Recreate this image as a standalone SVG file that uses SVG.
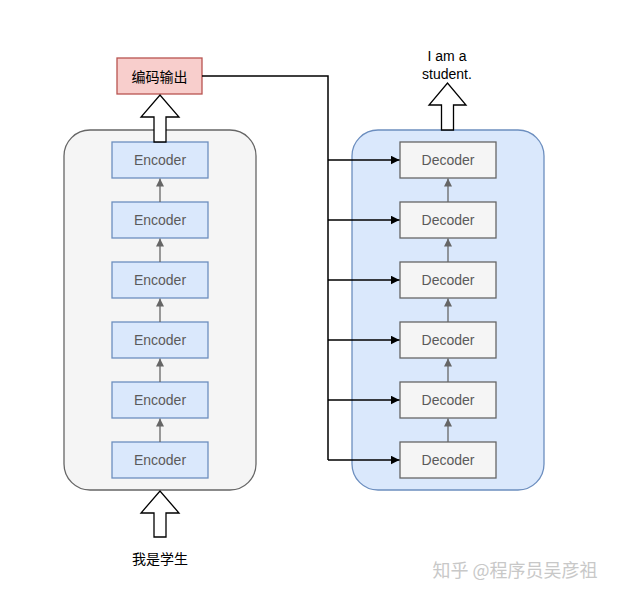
<svg xmlns="http://www.w3.org/2000/svg" width="617" height="595" viewBox="0 0 617 595">
<style>
.enc rect{fill:#dae8fc;stroke:#6c8ebf;stroke-width:1.3}
.dec rect{fill:#f5f5f5;stroke:#666666;stroke-width:1.3}
.lbl{font-family:"Liberation Sans",Arial,sans-serif;font-size:14px;fill:#5a5a5a;text-anchor:middle;dominant-baseline:central}
.cjk{font-family:"Noto Sans CJK SC","Liberation Sans",sans-serif;font-size:14px;fill:#000;text-anchor:middle;dominant-baseline:central}
.big{fill:#fff;stroke:#000;stroke-width:1.3;stroke-linejoin:miter}
.small{stroke:#666;stroke-width:1.3;fill:none}
.blk{stroke:#000;stroke-width:1.5;fill:none}
</style>
<defs>
<marker id="ag" viewBox="0 0 10 10" refX="10" refY="5" markerWidth="8" markerHeight="8" markerUnits="userSpaceOnUse" orient="auto"><path d="M0,0 L10,5 L0,10 Z" fill="#666"/></marker>
<marker id="ab" viewBox="0 0 10 10" refX="10" refY="5" markerWidth="9" markerHeight="9" markerUnits="userSpaceOnUse" orient="auto"><path d="M0,0 L10,5 L0,10 Z" fill="#000"/></marker>
</defs>
<rect width="617" height="595" fill="#fff"/>
<g id="encoder-stack"><rect x="64" y="130" width="192" height="360" rx="26" fill="#f5f5f5" stroke="#666" stroke-width="1.3"/></g>
<g id="decoder-stack"><rect x="352" y="130" width="192" height="360" rx="26" fill="#dae8fc" stroke="#6c8ebf" stroke-width="1.3"/></g>
<g id="enc1" class="enc"><rect x="112" y="142" width="96" height="36"/><text class="lbl" x="160" y="160">Encoder</text></g>
<g id="enc2" class="enc"><rect x="112" y="202" width="96" height="36"/><text class="lbl" x="160" y="220">Encoder</text></g>
<g id="enc3" class="enc"><rect x="112" y="262" width="96" height="36"/><text class="lbl" x="160" y="280">Encoder</text></g>
<g id="enc4" class="enc"><rect x="112" y="322" width="96" height="36"/><text class="lbl" x="160" y="340">Encoder</text></g>
<g id="enc5" class="enc"><rect x="112" y="382" width="96" height="36"/><text class="lbl" x="160" y="400">Encoder</text></g>
<g id="enc6" class="enc"><rect x="112" y="442" width="96" height="36"/><text class="lbl" x="160" y="460">Encoder</text></g>
<g id="dec1" class="dec"><rect x="400" y="142" width="96" height="36"/><text class="lbl" x="448" y="160">Decoder</text></g>
<g id="dec2" class="dec"><rect x="400" y="202" width="96" height="36"/><text class="lbl" x="448" y="220">Decoder</text></g>
<g id="dec3" class="dec"><rect x="400" y="262" width="96" height="36"/><text class="lbl" x="448" y="280">Decoder</text></g>
<g id="dec4" class="dec"><rect x="400" y="322" width="96" height="36"/><text class="lbl" x="448" y="340">Decoder</text></g>
<g id="dec5" class="dec"><rect x="400" y="382" width="96" height="36"/><text class="lbl" x="448" y="400">Decoder</text></g>
<g id="dec6" class="dec"><rect x="400" y="442" width="96" height="36"/><text class="lbl" x="448" y="460">Decoder</text></g>
<g id="enc-out"><rect x="117" y="58" width="85" height="36" fill="#f8cecc" stroke="#b85450" stroke-width="1.3"/><text class="cjk" x="159.5" y="76">编码输出</text></g>
<g id="input-label"><text class="cjk" x="160" y="558">我是学生</text></g>
<g id="output-label"><text class="lbl" x="447" y="56" style="fill:#000">I am a</text><text class="lbl" x="447" y="74" style="fill:#000">student.</text></g>
<g id="connectors">
<path class="small" d="M160 442V418.5" marker-end="url(#ag)"/>
<path class="small" d="M160 382V358.5" marker-end="url(#ag)"/>
<path class="small" d="M160 322V298.5" marker-end="url(#ag)"/>
<path class="small" d="M160 262V238.5" marker-end="url(#ag)"/>
<path class="small" d="M160 202V178.5" marker-end="url(#ag)"/>
<path class="small" d="M448 442V418.5" marker-end="url(#ag)"/>
<path class="small" d="M448 382V358.5" marker-end="url(#ag)"/>
<path class="small" d="M448 322V298.5" marker-end="url(#ag)"/>
<path class="small" d="M448 262V238.5" marker-end="url(#ag)"/>
<path class="small" d="M448 202V178.5" marker-end="url(#ag)"/>
<path class="blk" d="M202 76H328V460"/>
<path class="blk" d="M328 160H399.5" marker-end="url(#ab)"/>
<path class="blk" d="M328 220H399.5" marker-end="url(#ab)"/>
<path class="blk" d="M328 280H399.5" marker-end="url(#ab)"/>
<path class="blk" d="M328 340H399.5" marker-end="url(#ab)"/>
<path class="blk" d="M328 400H399.5" marker-end="url(#ab)"/>
<path class="blk" d="M328 460H399.5" marker-end="url(#ab)"/>
<path class="big" d="M154 142V117H141L160 95L179 117H166V142Z"/>
<path class="big" d="M154 537V513H141L160 491L179 513H166V537Z"/>
<path class="big" d="M441.5 130V105H429L447.5 83L466 105H453.5V130Z"/>
</g>
<text x="515" y="569" font-family="'Noto Sans CJK SC',sans-serif" font-size="18" fill="#c8c8c8" text-anchor="middle" dominant-baseline="central">知乎 @程序员吴彦祖</text>
</svg>
